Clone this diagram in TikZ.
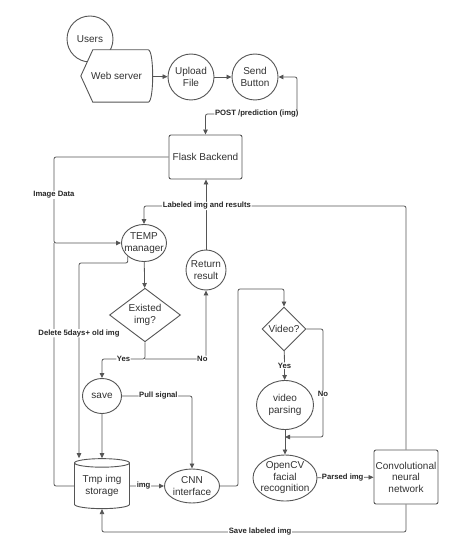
\documentclass[tikz,border=0pt]{standalone}
\usepackage{fontspec}
\setmainfont{Liberation Sans}
\usepackage{tikz}
\usetikzlibrary{shapes.geometric}
\usetikzlibrary{arrows.meta, positioning}
\usepackage{xcolor}
\definecolor{flowLine}{RGB}{85, 85, 85}
\definecolor{flowText}{RGB}{50, 50, 50}
\colorlet{shape edge}{flowLine}
\tikzset{
    base/.style={draw=shape edge, line width=0.9pt, fill=white, text=flowText,
        font=\fontsize{10}{11.5}\selectfont, align=center, inner sep=0pt},
    roundnode/.style={base, circle, minimum size=#1},
    ovalnode/.style 2 args={base, ellipse, minimum width=#1, minimum height=#2},
    decision/.style 2 args={base, diamond, minimum width=#1, minimum height=#2},
    process/.style 2 args={base, rectangle, rounded corners=2pt, minimum width=#1, minimum height=#2},
    storage/.style 2 args={base, cylinder, shape border rotate=90, aspect=0.22,
        minimum width=#1, minimum height=#2},
    conn/.style={draw=flowLine, line width=0.8pt, rounded corners=2pt,
        >={Triangle[length=5pt, width=4.5pt]}},
    lbl/.style={fill=white, inner sep=0.6pt, text=black!85,
        font=\fontsize{7.7}{9}\selectfont\bfseries}
}

\begin{document}
\begin{tikzpicture}[x=1pt, y=-1pt]
    \useasboundingbox (0,0) rectangle (474,556);

    % Front end: users, web server and upload
    \node[roundnode=46pt] (users) at (90,39) {Users};
    \node[minimum width=71pt, minimum height=52pt, inner sep=0pt] (web) at (116.5,76) {};
    \draw[base] ([xshift=12pt]web.north west) -- ([xshift=-4pt]web.north east)
        .. controls ([xshift=2pt]web.north east) and ([xshift=2pt]web.south east) .. ([xshift=-4pt]web.south east)
        -- ([xshift=12pt]web.south west) -- (web.west) -- cycle;
    \node[base, draw=none, fill=none] (webtext) at (web.center) {Web server};
    \node[roundnode=46pt] (upload) at (191,77) {Upload\\File};
    \node[roundnode=46pt] (send) at (255,77) {Send\\Button};

    % Back end and temp manager
    \node[process={73pt}{44pt}] (flask) at (205.5,157) {Flask Backend};
    \node[ovalnode={45pt}{37pt}, inner xsep=-4pt] (temp) at (144,243) {TEMP\\manager};
    \node[decision={71pt}{53pt}] (exist) at (145,315) {Existed\\img?};
    \node[roundnode=40pt] (ret) at (206,270) {Return\\result};
    \node[ovalnode={39pt}{35pt}] (save) at (102,396) {save};
    \node[storage={55pt}{50pt}] (store) at (102,486) {Tmp img\\storage};
    \node[ovalnode={55pt}{34pt}] (cnni) at (192,486) {CNN\\interface};

    % Recognition pipeline
    \node[decision={44pt}{44pt}] (vid) at (284,329) {Video?};
    \node[ovalnode={57pt}{49pt}] (parse) at (285,405) {video\\parsing};
    \node[ovalnode={64pt}{46pt}, inner xsep=-2.5pt] (opencv) at (285,478) {OpenCV\\facial\\recognition};
    \node[process={64pt}{54pt}] (nn) at (406,477) {Convolutional\\neural\\network};

    % Bend points
    \coordinate (postbend) at (297,114);
    \coordinate (imgbus) at (54,486);
    \coordinate (delbend) at (79,263);
    \coordinate (yesno) at (145,359);
    \coordinate (resbend) at (144,206);
    \coordinate (vidbend) at (238,289);
    \coordinate (nobend) at (323,437);
    \coordinate (savebend) at (102,532);

    % Connectors
    \draw[conn, ->] (web) -- (upload);
    \draw[conn, ->] (upload) -- (send);
    \draw[conn, <->] (flask.north) |- node[lbl, pos=0.78] (lpost) {POST /prediction (img)} (postbend) |- (send.east);
    \draw[conn, ->] (flask.west) -| node[lbl, pos=0.72] (limgdata) {Image Data} (imgbus |- temp.west) -- (temp.west);
    \draw[conn] (imgbus |- temp.west) -- (imgbus) -- (store.west);
    \draw[conn, ->] (temp.south west) |- (delbend) -- node[lbl, pos=0.36] (ldel) {Delete 5days+ old img} (delbend |- store.north);
    \draw[conn, ->] (temp) -- (exist);
    \draw[conn, ->] (exist) -- (yesno) -| node[lbl, pos=0.25] (lyes) {Yes} (save);
    \draw[conn, ->] (yesno) -| node[lbl, pos=0.47] (lno) {No} (ret);
    \draw[conn, ->] (ret) -- (ret |- flask.south);
    \draw[conn, ->] (nn) |- node[lbl, pos=0.88] (lres) {Labeled img and results} (resbend) -- (temp);
    \draw[conn, ->] (save) -| node[lbl, pos=0.26] (lpull) {Pull signal} (cnni);
    \draw[conn, ->] (save) -- (store);
    \draw[conn, ->] (store) -- node[lbl, pos=0.4] (limg) {img} (cnni);
    \draw[conn, ->] (cnni) -| (vidbend) -| (vid);
    \draw[conn, ->] (vid) -- node[lbl] (lyes2) {Yes} (parse);
    \draw[conn, ->] (vid) -| node[lbl, pos=0.8] (lno2) {No} (nobend) -- (nobend -| parse);
    \draw[conn, ->] (parse) -- (opencv);
    \draw[conn, ->] (opencv) -- node[lbl, pos=0.45] (lparsed) {Parsed img} (nn);
    \draw[conn, ->] (nn) |- node[lbl, pos=0.74] (lsave) {Save labeled img} (savebend) -- (store);
\end{tikzpicture}
\end{document}
